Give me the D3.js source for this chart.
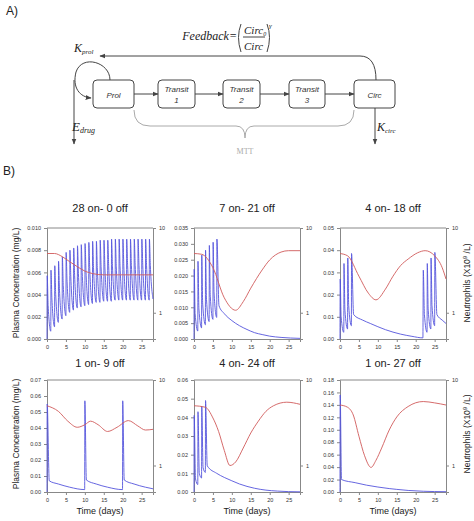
<!DOCTYPE html>
<html><head><meta charset="utf-8">
<script src="https://cdn.jsdelivr.net/npm/d3@7"></script>
<style>body{margin:0;background:#fff}svg{font-family:"Liberation Sans",Arial,sans-serif}</style>
</head><body><div id="chart"></div>
<script>
// panel titles and axis maxima
const titles = ["28 on- 0 off","7 on- 21 off","4 on- 18 off","1 on- 9 off","4 on- 24 off","1 on- 27 off"];
const concMax = [0.010, 0.035, 0.05, 0.07, 0.06, 0.18];
const concStep = [0.002, 0.005, 0.01, 0.01, 0.01, 0.02];
const timeTicks = [0, 5, 10, 15, 20, 25];

// panel 1: daily dosing peaks and pre-dose troughs
const peaks1 = [0.0057,0.0062,0.0066,0.0070,0.0074,0.0078,0.0080,0.0082,0.0084,0.0085,0.0086,0.0087,0.0088,0.0088,0.0089,0.0089,0.0089,0.0090,0.0090,0.0090,0.0090,0.0090,0.0090,0.0090,0.0090,0.0090,0.0090,0.0090];
const troughs1 = [0.0007,0.0011,0.0015,0.0018,0.0021,0.0024,0.0026,0.0028,0.0029,0.0030,0.0031,0.0032,0.0033,0.0033,0.0034,0.0034,0.0034,0.0035,0.0035,0.0035,0.0035,0.0035,0.0035,0.0035,0.0035,0.0035,0.0035,0.0036];
const knees1 = [0.0030,0.0036,0.0040,0.0044,0.0048,0.0052,0.0055,0.0057,0.0059,0.0060,0.0061,0.0062,0.0063,0.0063,0.0064,0.0064,0.0065,0.0065,0.0065,0.0065,0.0065,0.0066,0.0066,0.0066,0.0066,0.0066,0.0066,0.0066];

// panels 2-6: plasma concentration [day, mg/L]
const pk2 = [[0,0],[0.05,0.022],[0.3,0.008],[1,0.0025],[1.05,0.0245],[1.3,0.0095],[2,0.0035],[2.05,0.0265],[2.3,0.011],[3,0.0045],[3.05,0.028],[3.3,0.0125],[4,0.0055],[4.05,0.0295],[4.3,0.0135],[5,0.0062],[5.05,0.0305],[5.3,0.0145],[6,0.0068],[6.05,0.0315],[6.6,0.0105],[8,0.008],[10,0.0058],[12,0.0042],[14,0.003],[16,0.002],[18,0.0014],[20,0.0009],[23,0.0005],[28,0.0002]];
const pk3 = [[0,0],[0.05,0.027],[0.3,0.01],[1,0.003],[1.05,0.034],[1.3,0.013],[2,0.0045],[2.05,0.0365],[2.3,0.015],[3,0.006],[3.05,0.0385],[3.6,0.011],[6,0.0085],[8,0.007],[12,0.0042],[16,0.0022],[19,0.0012],[21.9,0.0005],[22,0.031],[22.3,0.011],[23,0.003],[23.05,0.034],[23.3,0.013],[24,0.0045],[24.05,0.0365],[24.3,0.015],[25,0.006],[25.05,0.039],[25.6,0.011],[27,0.0085],[28,0.007]];
const pk4 = [[0,0],[0.05,0.055],[0.6,0.007],[3,0.005],[6,0.003],[9.95,0.0015],[10,0.057],[10.4,0.0075],[13,0.005],[16,0.003],[19.95,0.0015],[20,0.057],[20.4,0.0075],[23,0.005],[26,0.003],[28,0.002]];
const pk5 = [[0,0],[0.05,0.041],[0.4,0.007],[1,0.004],[1.05,0.043],[1.4,0.01],[2,0.0075],[2.05,0.046],[2.4,0.013],[3,0.0105],[3.05,0.049],[3.5,0.014],[6,0.01],[8,0.0078],[10,0.006],[12,0.0043],[14,0.003],[16,0.002],[19,0.001],[22,0.0005],[25,0.0002],[28,0.0001]];
const pk6 = [[0,0],[0.05,0.156],[0.4,0.02],[4,0.015],[7,0.011],[10,0.008],[13,0.0055],[15,0.0042],[18,0.0025],[22,0.0012],[25,0.0007],[28,0.0005]];

// neutrophils [day, x10^9/L]
const anc1 = [[0,5.0],[2,5.0],[4,4.6],[6,4.0],[8,3.5],[10,3.1],[12,2.9],[15,2.8],[20,2.8],[28,2.8]];
const anc2 = [[0,5.0],[2,4.9],[5,3.4],[8,1.5],[11,1.07],[13,1.35],[15,1.95],[18,3.2],[20,4.2],[23,5.2],[25,5.4],[28,5.4]];
const anc3 = [[0,5.0],[2,4.7],[5,2.7],[7.5,1.7],[9.5,1.42],[12,1.9],[14,2.7],[16,3.6],[18,4.3],[20.5,5.1],[22.5,5.4],[25,4.7],[27,3.4],[28,2.5]];
const anc4 = [[0,5.0],[3,4.3],[5.5,3.3],[8,2.8],[10,3.0],[11.5,3.3],[13.5,3.0],[16,2.5],[18.5,2.8],[21.5,3.35],[24,2.9],[26,2.6],[28,2.65]];
const anc5 = [[0,5.0],[3,4.8],[5,3.6],[6.5,2.5],[8,1.5],[9.5,1.0],[11,1.1],[13,1.6],[15,2.4],[17,3.3],[19,4.3],[21,5.0],[24.5,5.5],[28,5.2]];
const anc6 = [[0,5.1],[2,4.8],[3.5,3.9],[5,2.2],[6.5,1.3],[8.2,0.95],[9.5,1.15],[11,1.6],[13,2.6],[15,3.7],[18,4.9],[22,5.6],[25,5.4],[28,5.1]];

const pkData = [null, pk2, pk3, pk4, pk5, pk6];
const ancData = [anc1, anc2, anc3, anc4, anc5, anc6];

// build panel-1 points from the read peaks/knees/troughs
pkData[0] = [[0, 0]];
peaks1.forEach((p, i) => {
  pkData[0].push([i + 0.05, p], [i + 0.3, knees1[i]], [i + 1, troughs1[i]]);
});

const W = 474, H = 521;
const svg = d3.select("#chart").append("svg").attr("width", W).attr("height", H);
const ink = "#444";

// ---------- A) model diagram ----------
const A = svg.append("g").attr("fill", "none").attr("stroke", ink).attr("stroke-width", 1);
svg.append("text").attr("x", 6).attr("y", 15).attr("font-size", 12).attr("fill", "#222").text("A)");
svg.append("text").attr("x", 3).attr("y", 175).attr("font-size", 12).attr("fill", "#222").text("B)");

const defs = svg.append("defs");
defs.append("marker").attr("id", "ah").attr("viewBox", "0 0 10 10").attr("refX", 9).attr("refY", 5)
  .attr("markerWidth", 6).attr("markerHeight", 6).attr("orient", "auto")
  .append("path").attr("d", "M0,1L10,5L0,9z").attr("fill", ink);

const boxes = [
  {x: 93, w: 41, l: ["Prol"]},
  {x: 158, w: 37, l: ["Transit", "1"]},
  {x: 223, w: 37, l: ["Transit", "2"]},
  {x: 289, w: 36, l: ["Transit", "3"]},
  {x: 354, w: 41, l: ["Circ"]}
];
const by = 80, bh = 28;
boxes.forEach((b, i) => {
  A.append("rect").attr("x", b.x).attr("y", by).attr("width", b.w).attr("height", bh).attr("rx", 4);
  b.l.forEach((t, j) => {
    svg.append("text").attr("x", b.x + b.w / 2).attr("y", by + (b.l.length === 1 ? 18 : 12 + j * 11))
      .attr("text-anchor", "middle").attr("font-size", 8).attr("font-style", "italic").attr("fill", "#333").text(t);
  });
  if (i < boxes.length - 1) {
    A.append("line").attr("x1", b.x + b.w).attr("y1", 94).attr("x2", boxes[i + 1].x).attr("y2", 94).attr("marker-end", "url(#ah)");
  }
});
// feedback line
A.append("path").attr("d", "M376,80 Q376,56 360,56 L100,56").attr("marker-end", "url(#ah)");
// Kprol loop
A.append("path").attr("d", "M110,80 C110,62 82,54 76,72 C72,88 80,97 91,98").attr("marker-end", "url(#ah)");
// Edrug and Kcirc outflows
A.append("line").attr("x1", 74).attr("y1", 80).attr("x2", 74).attr("y2", 144).attr("marker-end", "url(#ah)");
A.append("line").attr("x1", 375).attr("y1", 108).attr("x2", 375).attr("y2", 144).attr("marker-end", "url(#ah)");
// MTT brace
A.append("path").attr("stroke", "#aaa")
  .attr("d", "M134,110 Q134,126 150,126 L236,126 Q245,126 245,138 Q245,126 254,126 L338,126 Q354,126 354,110");
svg.append("text").attr("x", 245).attr("y", 154).attr("text-anchor", "middle").attr("font-size", 8)
  .attr("font-family", "Liberation Serif").attr("fill", "#aaa").text("MTT");

const serif = (x, y, size) => svg.append("text").attr("x", x).attr("y", y).attr("font-size", size)
  .attr("font-family", "Liberation Serif").attr("font-style", "italic").attr("fill", "#222");
serif(74, 52, 12).html('K<tspan font-size="7" dy="2">prol</tspan>');
serif(72, 131, 13).html('E<tspan font-size="8" dy="2">drug</tspan>');
serif(377, 131, 12).html('K<tspan font-size="7" dy="2">circ</tspan>');
serif(237, 40, 12).attr("text-anchor", "end").text("Feedback=");
serif(244, 34, 11).text("Circ").append("tspan").attr("font-size", 6).attr("dy", 2).text("0");
serif(244, 50, 11).text("Circ");
A.append("line").attr("x1", 243).attr("x2", 265).attr("y1", 37).attr("y2", 37);
A.append("path").attr("d", "M241,24 Q236,37 241,52");
A.append("path").attr("d", "M267,24 Q272,37 267,52");
serif(269, 28, 7).text("γ");

// ---------- B) simulation panels ----------
const colX = [47, 194, 340], pw = 106;
const rowY = [{top: 228, bot: 339}, {top: 380, bot: 492}];
const x0 = d3.scaleLinear().domain([0, 28]).range([0, pw]);

titles.forEach((title, k) => {
  const r = Math.floor(k / 3), c = k % 3;
  const top = rowY[r].top, bot = rowY[r].bot, ph = bot - top;
  const g = svg.append("g").attr("transform", `translate(${colX[c]},${top})`);
  const y = d3.scaleLinear().domain([0, concMax[k]]).range([ph, 0]);
  const yr = d3.scaleLog().domain([0.49, 10]).range([ph, 0]);

  svg.append("text").attr("x", colX[c] + pw / 2).attr("y", top - (r === 0 ? 16 : 13)).attr("text-anchor", "middle")
    .attr("font-size", 11).attr("fill", "#222").text(title);

  const ticks = d3.range(0, concMax[k] + 1e-9, concStep[k]);
  const fmt = concMax[k] <= 0.035 ? d3.format(".3f") : d3.format(".2f");
  const ax = g.append("g").call(d3.axisLeft(y).tickValues(ticks).tickFormat(fmt).tickSize(3));
  const bx = g.append("g").attr("transform", `translate(0,${ph})`).call(d3.axisBottom(x0).tickValues(timeTicks).tickSize(3));
  const rx = g.append("g").attr("transform", `translate(${pw},0)`).call(d3.axisRight(yr).tickValues([1, 10]).tickFormat(d3.format("d")).tickSize(3));
  g.append("line").attr("x1", 0).attr("x2", pw).attr("y1", 0).attr("y2", 0).attr("stroke", "#888");
  [ax, bx, rx].forEach(a => {
    a.selectAll("path,line").attr("stroke", "#888");
    a.selectAll("text").attr("font-size", 5.5).attr("fill", "#333");
  });

  g.append("path").datum(pkData[k]).attr("fill", "none").attr("stroke", "#5555dd").attr("stroke-width", 0.9)
    .attr("d", d3.line().x(d => x0(d[0])).y(d => y(d[1])).curve(d3.curveMonotoneX));
  g.append("path").datum(ancData[k]).attr("fill", "none").attr("stroke", "#d05a5a").attr("stroke-width", 0.9)
    .attr("d", d3.line().x(d => x0(d[0])).y(d => yr(d[1])).curve(d3.curveMonotoneX));

  if (r === 1) {
    svg.append("text").attr("x", colX[c] + pw / 2).attr("y", 514).attr("text-anchor", "middle")
      .attr("font-size", 9).attr("fill", "#222").text("Time (days)");
  }
});

// shared axis titles
[283, 434].forEach(cy => {
  svg.append("text").attr("transform", `translate(19,${cy}) rotate(-90)`).attr("text-anchor", "middle")
    .attr("font-size", 8.5).attr("fill", "#222").text("Plasma Concentration (mg/L)");
  svg.append("text").attr("transform", `translate(470,${cy}) rotate(-90)`).attr("text-anchor", "middle")
    .attr("font-size", 8.5).attr("fill", "#222").html('Neutrophils (X10<tspan font-size="6" dy="-3">9</tspan><tspan dy="3"> /L)</tspan>');
});
</script></body></html>
